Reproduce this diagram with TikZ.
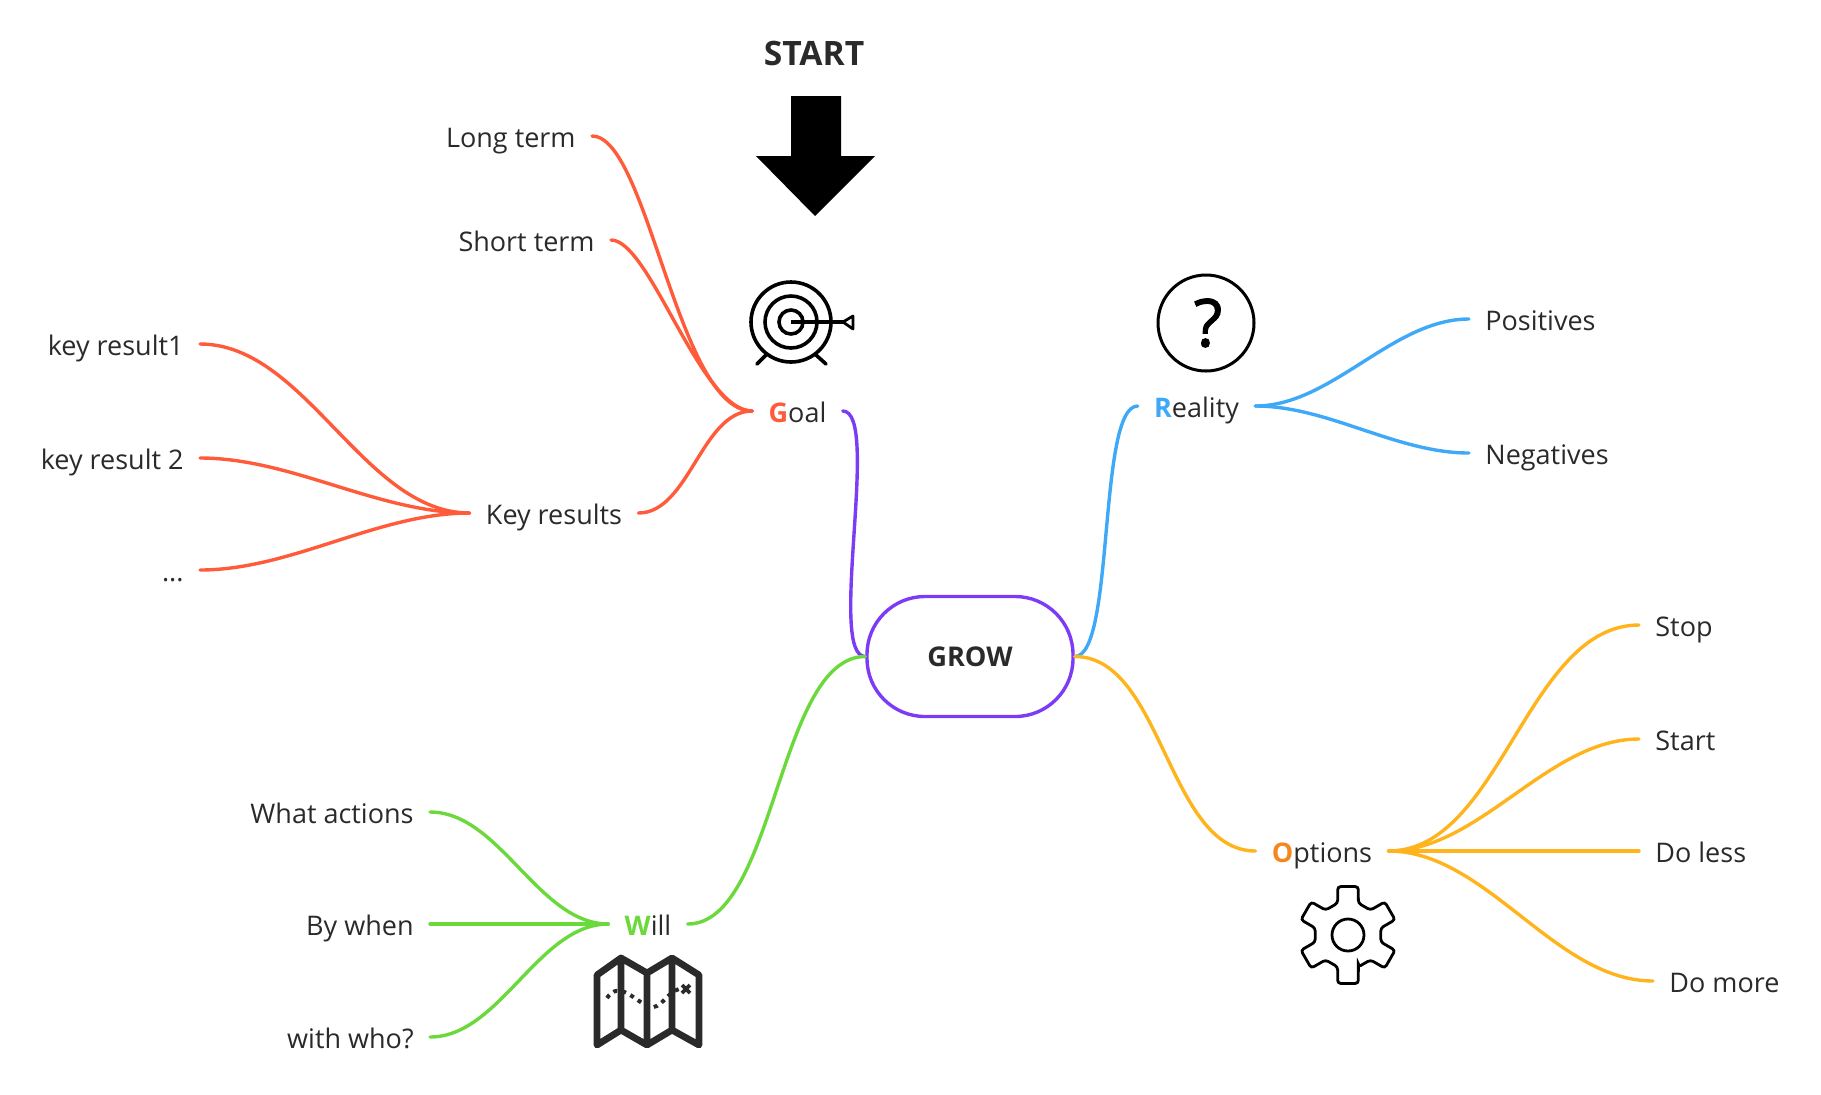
\documentclass[tikz,border=0pt]{standalone}
\usepackage{fontspec}
\setmainfont{Open Sans}
\definecolor{goalred}{HTML}{FF5B3A}
\definecolor{growpurple}{HTML}{7C3CF5}
\definecolor{realblue}{HTML}{3FA9F8}
\definecolor{willgreen}{HTML}{6BD93C}
\definecolor{optorange}{HTML}{FFB41E}
\definecolor{optletter}{HTML}{F5871F}
\definecolor{inktext}{HTML}{2A2A2A}
\begin{document}
\begin{tikzpicture}[
                x=0.5pt, y=-0.5pt,
                every node/.style={font=\fontsize{13.5pt}{16pt}\selectfont, text=inktext},
                label/.style={rectangle, inner xsep=8pt, inner ysep=0pt, text height=14.5pt, text depth=3pt},
                leftleaf/.style={label, anchor=east},
                rightleaf/.style={label, anchor=west},
                pill/.style={rectangle, draw=growpurple, line width=1.7pt, minimum width=103pt, minimum height=60pt, rounded corners=29pt, font=\fontsize{13.6pt}{16pt}\selectfont\bfseries},
                branch/.style={line width=1.7pt, line cap=round, out=0, in=180, looseness=0.85},
                tight/.style={looseness=0.4},
                steep/.style={out looseness=0.45, in looseness=0.6},
                icon/.style={draw=black, line width=1.8pt}
            ]
                \useasboundingbox (0,0) rectangle (1821,1094);

                % Root and the four letters
                \node[pill] (grow) at (970,656.5) {GROW};
                \node[label] (goal) at (797.5,411) {\textcolor{goalred}{\bfseries G}oal};
                \node[label] (reality) at (1196.5,406) {\textcolor{realblue}{\bfseries R}eality};
                \node[label] (options) at (1322,851) {\textcolor{optletter}{\bfseries O}ptions};
                \node[label] (will) at (648,924) {\textcolor{willgreen}{\bfseries W}ill};

                % Goal side
                \node[leftleaf] (longterm) at (592,136) {Long term};
                \node[leftleaf] (shortterm) at (611,240) {Short term};
                \node[label] (keyresults) at (554,513) {Key results};
                \node[leftleaf] (keyone) at (200,344) {key result1};
                \node[leftleaf] (keytwo) at (200,458) {key result 2};
                \node[leftleaf] (keymore) at (200,570) {...};

                % Reality side
                \node[rightleaf] (positives) at (1469,319) {Positives};
                \node[rightleaf] (negatives) at (1469,453) {Negatives};

                % Options side
                \node[rightleaf] (stop) at (1639,625) {Stop};
                \node[rightleaf] (startopt) at (1639,739) {Start};
                \node[rightleaf] (doless) at (1639,851) {Do less};
                \node[rightleaf] (domore) at (1653,981) {Do more};

                % Will side
                \node[leftleaf] (actions) at (430,812) {What actions};
                \node[leftleaf] (bywhen) at (430,924) {By when};
                \node[leftleaf] (withwho) at (430,1037) {with who?};

                % Branches from the root
                \draw[branch, tight, growpurple] (goal.east) to (grow.west);
                \draw[branch, tight, realblue] (grow.east) to (reality.west);
                \draw[branch, optorange] (grow.east) to (options.west);
                \draw[branch, looseness=0.7, willgreen] (will.east) to (grow.west);

                % Goal branches
                \foreach \leaf in {longterm,shortterm} {
                    \draw[branch, steep, goalred] (\leaf.east) to (goal.west);
                }
                \draw[branch, goalred] (keyresults.east) to (goal.west);
                \foreach \leaf in {keyone,keytwo,keymore} {
                    \draw[branch, goalred] (\leaf.east) to (keyresults.west);
                }

                % Reality branches
                \foreach \leaf in {positives,negatives} {
                    \draw[branch, realblue] (reality.east) to (\leaf.west);
                }

                % Options branches
                \foreach \leaf in {stop,startopt,doless,domore} {
                    \draw[branch, optorange] (options.east) to (\leaf.west);
                }

                % Will branches
                \foreach \leaf in {actions,bywhen,withwho} {
                    \draw[branch, willgreen] (\leaf.east) to (will.west);
                }

                % Start marker
                \node[font=\fontsize{16.8pt}{18pt}\selectfont\bfseries] (start) at (814,53) {START};
                \fill[black] (791,96) -- (841,96) -- (841,156) -- (875,156) -- (815,216) -- (756,156) -- (791,156) -- cycle;

                % Target icon
                \foreach \r in {40,26,12} {
                    \draw[icon] (791,322) circle[radius=\r];
                }
                \draw[icon] (791,322) -- (843,322);
                \draw[icon, line width=1.4pt, line join=round] (843,322) -- (853,316) -- (853,329) -- cycle;
                \draw[icon, line cap=round] (766,355) -- (757,364);
                \draw[icon, line cap=round] (816,355) -- (826,364);

                % Question icon
                \draw[icon, line width=1.5pt] (1206,323) circle[radius=48];
                \node[font=\fontsize{33pt}{36pt}\selectfont\addfontfeature{FakeBold=1.5}, text=black] (question) at (1208,323) {?};

                % Gear icon
                \draw[icon, line width=1.4pt, rounded corners=1.5pt, shift={(1348,935)}]
                    (72:33.5) \foreach \a in {90,150,210,270,330,30} {
                        -- ({\a-18}:33.5) -- ({\a-12}:49.5) -- ({\a+12}:49.5) -- ({\a+18}:33.5)
                    } -- cycle;
                \draw[icon, line width=1.4pt] (1348,935) circle[radius=16];

                % Map icon
                \draw[line width=3.4pt, line join=round, inktext]
                    (597,975) -- (621,958) -- (647,973) -- (672,958) -- (699,975) -- (699,1045)
                    -- (672,1030) -- (647,1045) -- (621,1030) -- (597,1045) -- cycle
                    (621,958) -- (621,1030) (647,973) -- (647,1045) (672,958) -- (672,1030);
                \draw[line width=2pt, dash pattern=on 2pt off 2.5pt, inktext]
                    (607,998) .. controls (619,980) and (634,1000) .. (649,1007)
                    .. controls (661,1010) and (667,992) .. (679,989);
                \draw[line width=1.8pt, inktext] (682,985) -- (690,993) (682,993) -- (690,985);
            \end{tikzpicture}
\end{document}
